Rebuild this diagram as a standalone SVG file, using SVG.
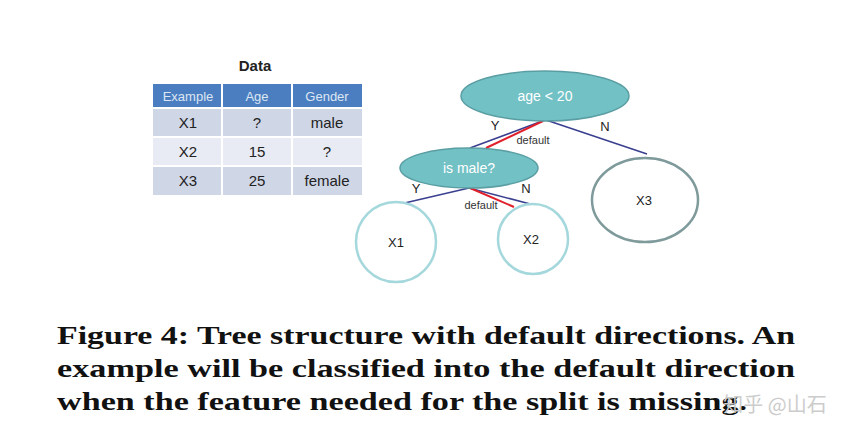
<svg xmlns="http://www.w3.org/2000/svg" width="864" height="438" viewBox="0 0 864 438">
<style>
.t{font-family:"Liberation Sans",Arial,sans-serif;font-size:15px;text-anchor:middle;fill:#222}
.h{font-family:"Liberation Sans",Arial,sans-serif;font-size:13px;text-anchor:middle;fill:#dde6f3}
.w{font-family:"Liberation Sans",Arial,sans-serif;font-size:14px;text-anchor:middle;fill:#fff}
.l{font-family:"Liberation Sans",Arial,sans-serif;font-size:13px;text-anchor:middle;fill:#222}
.s{font-family:"Liberation Sans",Arial,sans-serif;font-size:11px;text-anchor:middle;fill:#333}
.cap{font-family:"Liberation Serif","DejaVu Serif",serif;font-weight:bold;font-size:26px;fill:#111}
.b{stroke:#3a3f8f;stroke-width:1.6;fill:none}
.r{stroke:#e0202a;stroke-width:2;fill:none}
.dec{fill:#72c1c5;stroke:#5a9ea3;stroke-width:1.5}
.leaf{fill:#fff;stroke:#a5d8dc;stroke-width:2.5}
</style>
<rect width="864" height="438" fill="#fff"/>
<g id="table">
<text x="255" y="71" class="t" font-weight="bold" font-size="14">Data</text>
<rect x="153" y="84" width="209" height="24" fill="#4a7ec1"/>
<rect x="153" y="108" width="209" height="29" fill="#cfd6e6"/>
<rect x="153" y="137" width="209" height="29" fill="#e8ebf3"/>
<rect x="153" y="166" width="209" height="29" fill="#cfd6e6"/>
<g stroke="#fff" stroke-width="2"><line x1="222" y1="84" x2="222" y2="195"/><line x1="292" y1="84" x2="292" y2="195"/><line x1="153" y1="108" x2="362" y2="108"/><line x1="153" y1="137" x2="362" y2="137"/><line x1="153" y1="166" x2="362" y2="166"/></g>
<text x="188" y="101" class="h">Example</text><text x="257" y="101" class="h">Age</text><text x="327" y="101" class="h">Gender</text>
<text x="188" y="128" class="t">X1</text><text x="257" y="128" class="t">?</text><text x="327" y="128" class="t">male</text>
<text x="188" y="157" class="t">X2</text><text x="257" y="157" class="t">15</text><text x="327" y="157" class="t">?</text>
<text x="188" y="186" class="t">X3</text><text x="257" y="186" class="t">25</text><text x="327" y="186" class="t">female</text>
</g>
<g id="connectors">
<line class="b" x1="545" y1="120" x2="470" y2="148"/>
<line class="r" x1="543" y1="121" x2="486" y2="148"/>
<line class="b" x1="546" y1="120" x2="647" y2="154"/>
<line class="b" x1="469" y1="188" x2="396" y2="205"/>
<line class="b" x1="469" y1="188" x2="534" y2="205"/>
<line class="r" x1="470" y1="188" x2="514" y2="207"/>
<text x="495" y="130" class="l">Y</text>
<text x="605" y="131" class="l">N</text>
<text x="533" y="144" class="s">default</text>
<text x="416" y="193" class="l">Y</text>
<text x="526" y="193" class="l">N</text>
<text x="481" y="209" class="s">default</text>
</g>
<g id="age"><ellipse class="dec" cx="545" cy="96" rx="84" ry="25"/><text x="545" y="101" class="w">age &lt; 20</text></g>
<g id="male"><ellipse class="dec" cx="469" cy="168" rx="69" ry="20"/><text x="469" y="173" class="w">is male?</text></g>
<g id="x1"><circle class="leaf" cx="396" cy="242" r="40"/><text x="396" y="247" class="l">X1</text></g>
<g id="x2"><circle class="leaf" cx="533" cy="239" r="35"/><text x="531" y="244" class="l">X2</text></g>
<g id="x3"><ellipse cx="645" cy="200" rx="53" ry="42" fill="#fff" stroke="#7f9a9b" stroke-width="2.5"/><text x="644" y="205" class="l">X3</text></g>
<g id="caption">
<text x="57" y="344" class="cap" textLength="738" lengthAdjust="spacingAndGlyphs">Figure 4: Tree structure with default directions. An</text>
<text x="57" y="377" class="cap" textLength="738" lengthAdjust="spacingAndGlyphs">example will be classified into the default direction</text>
<text x="57" y="410" class="cap" textLength="690" lengthAdjust="spacingAndGlyphs">when the feature needed for the split is missing.</text>
<text x="775" y="412" font-family="'Noto Sans CJK SC',sans-serif" font-size="20" fill="#ccc" text-anchor="middle">知乎 @山石</text>
</g>
</svg>
